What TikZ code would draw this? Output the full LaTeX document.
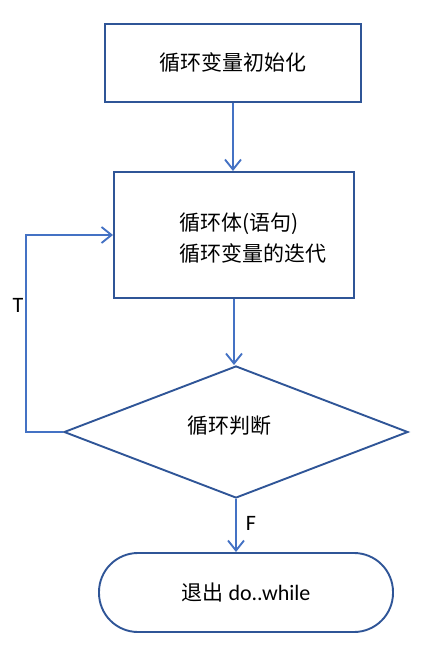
\documentclass[tikz,border=0pt]{standalone}
\usepackage{fontspec}
\setmainfont{Carlito}
\newfontfamily\cjk{Noto Sans CJK SC}
\usepackage{tikz}
\usetikzlibrary{arrows.meta}
\usetikzlibrary{shapes.geometric}
\definecolor{boxblue}{HTML}{2F5597}
\definecolor{arrowblue}{HTML}{4472C4}
\def\thickness{1.9pt}
\newcommand{\zh}[1]{{\cjk #1}}
\tikzstyle{every node}=[font=\fontsize{21}{31}\selectfont]
\tikzstyle{stepbox}=[rectangle, draw=boxblue, line width=\thickness, inner sep=0pt]
\tikzstyle{test}=[diamond, draw=boxblue, line width=\thickness, inner sep=0pt]
\tikzstyle{terminal}=[rectangle, rounded corners=39pt, draw=boxblue, line width=\thickness, inner sep=0pt]
\tikzstyle{flow}=[draw=arrowblue, line width=\thickness, -{Straight Barb[length=10pt,width=16pt,line width=\thickness]}]
\tikzstyle{branch}=[font=\fontsize{22}{24}\selectfont]

\begin{document}
\begin{tikzpicture}[x=1pt, y=-1pt]
\useasboundingbox (0,0) rectangle (434,646);
\node [stepbox, minimum width=256pt, minimum height=78pt] (init) at (233,63) {\zh{循环变量初始化}};
\node [stepbox, minimum width=240pt, minimum height=126pt] (body) at (234,235) {};
\node [anchor=west, align=left, inner sep=0pt] (bodytext) at (179,238) {\zh{循环体(语句)}\\\zh{循环变量的迭代}};
\node [test, minimum width=344pt, minimum height=132pt] (judge) at (236,432) {};
\node [inner sep=0pt] (judgetext) at (229,426) {\zh{循环判断}};
\node [terminal, minimum width=294pt, minimum height=79pt] (exit) at (246,592.5) {\zh{退出}\fontsize{22}{24}\selectfont{} do..while};
\coordinate (tback) at (26,235);
\draw [flow] (init.south) -- (init.south |- body.north);
\draw [flow] (body.south) -- (body.south |- judge.north);
\draw [flow] (judge.west) -| (tback) -- (body.west);
\draw [flow] (judge.south) -- (judge.south |- exit.north);
\node [branch] (tlabel) at (18,305) {T};
\node [branch] (flabel) at (251,523) {F};
\end{tikzpicture}
\end{document}
